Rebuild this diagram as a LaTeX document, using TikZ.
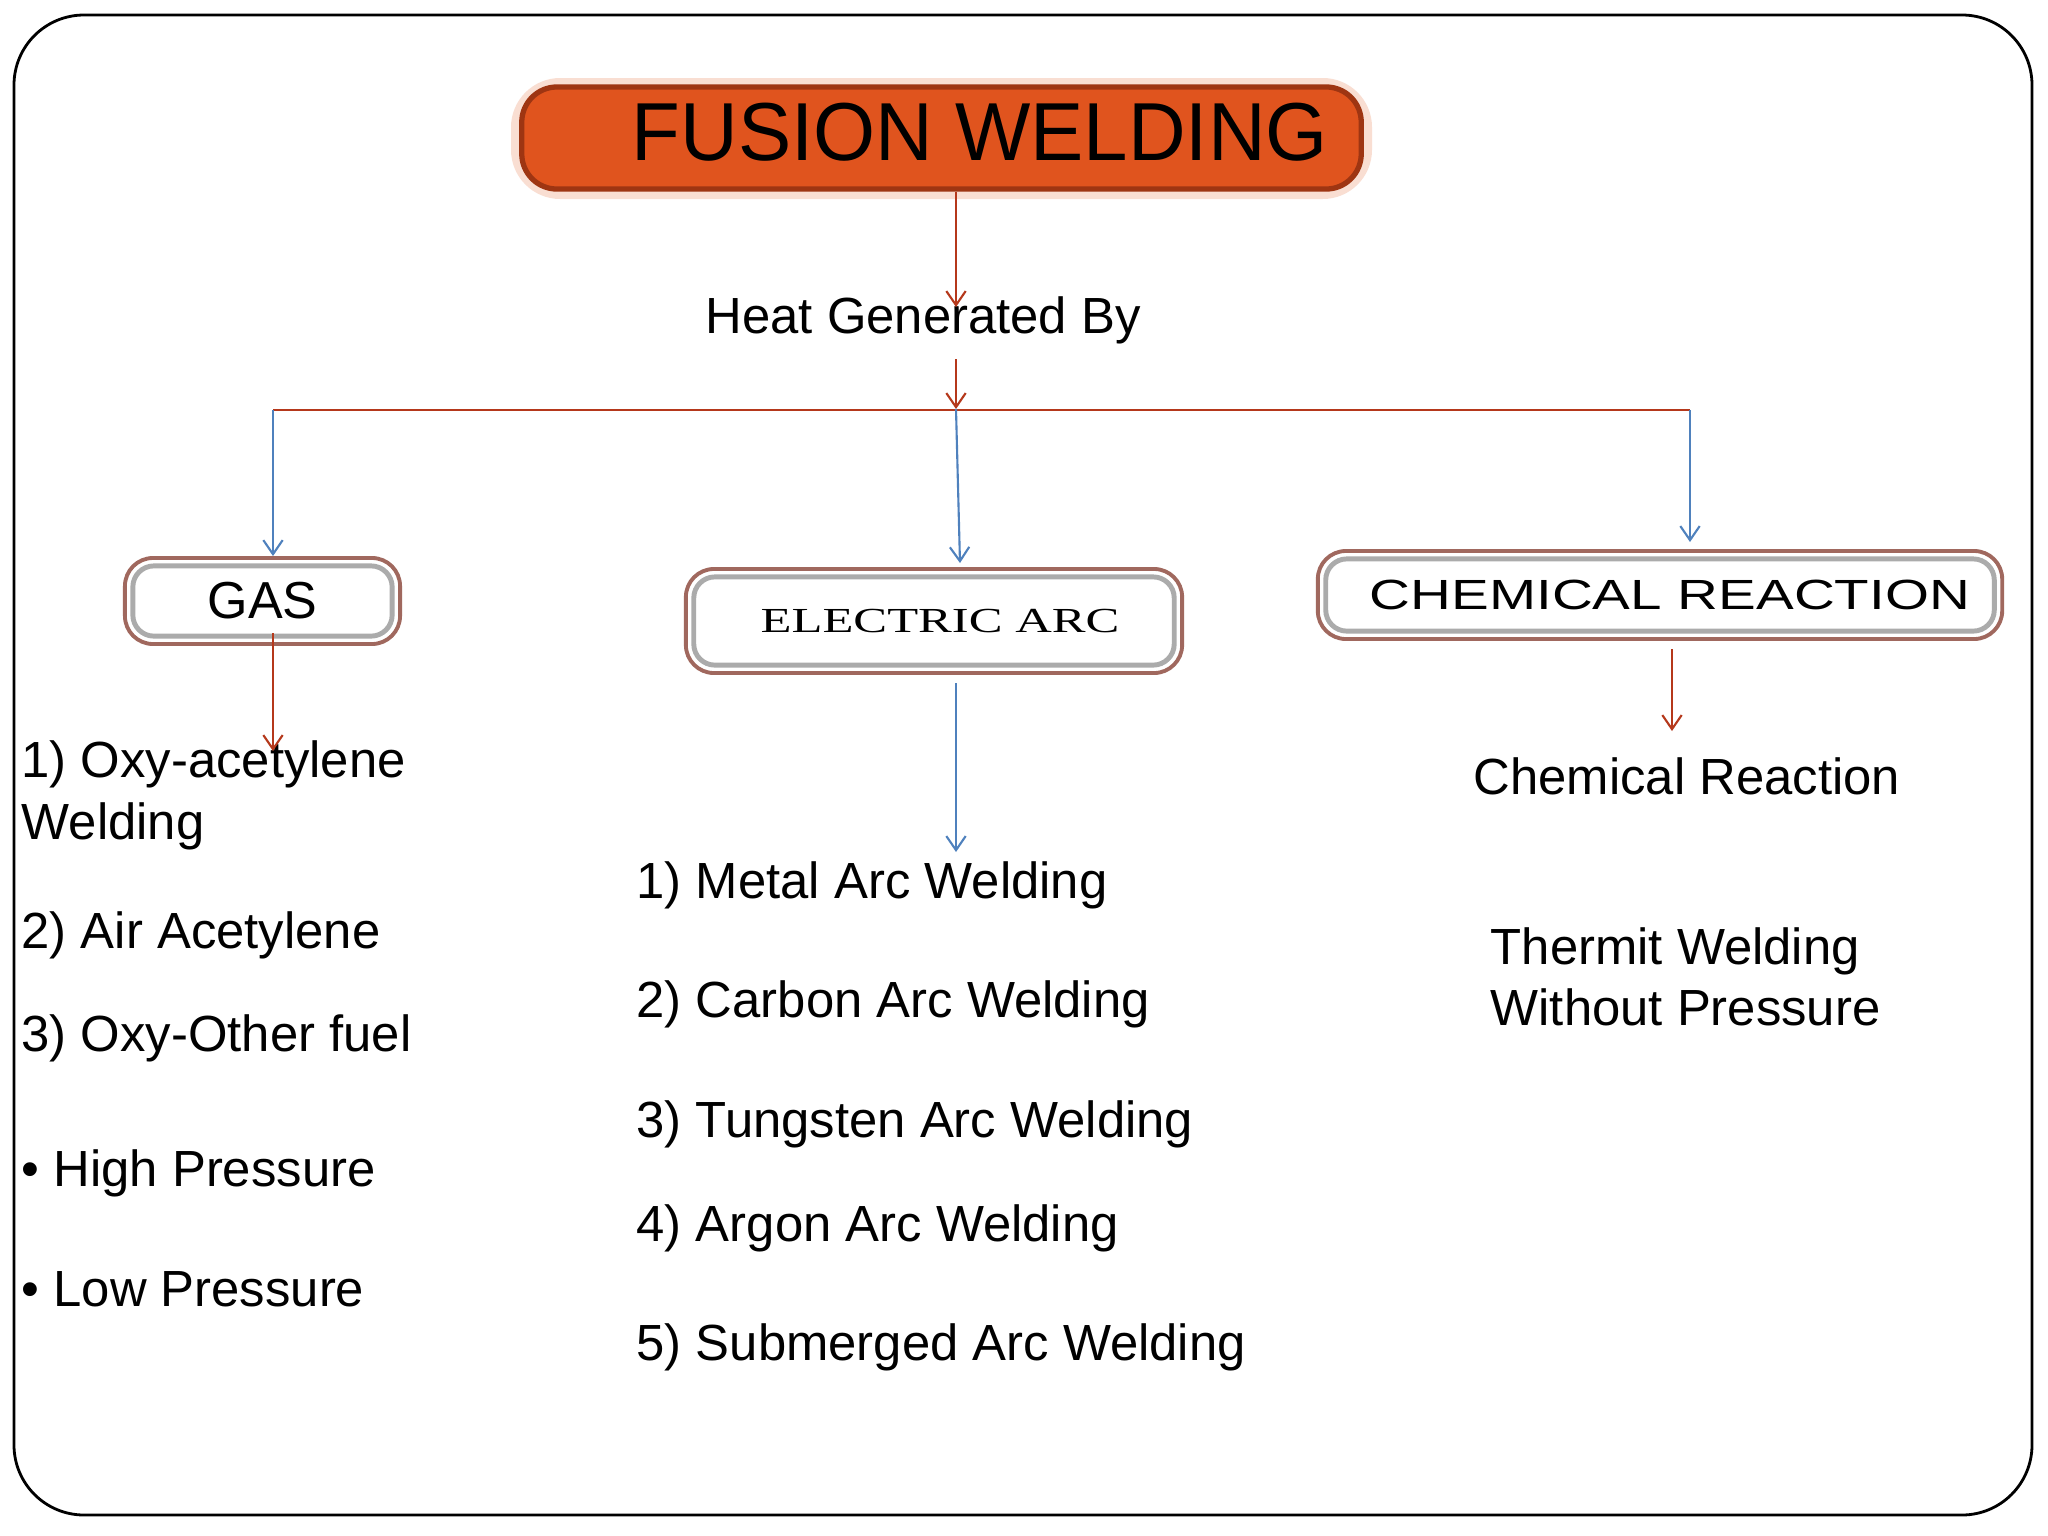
\documentclass[tikz,border=0pt]{standalone}
\usepackage{fontspec}
\usepackage{graphicx}
\setmainfont{Liberation Sans}
\newfontfamily\serifface{Liberation Serif}
\usetikzlibrary{arrows.meta}
\definecolor{arrred}{HTML}{B5381B}
\definecolor{arrblue}{HTML}{4F81BD}
\definecolor{titleorange}{HTML}{E0541E}
\definecolor{titleedge}{HTML}{9E3512}
\definecolor{glow}{HTML}{F9DED2}
\definecolor{boxedge}{HTML}{A0685E}
\definecolor{bevel}{HTML}{ABABAB}
\begin{document}
\begin{tikzpicture}[x=0.01cm,y=-0.01cm,
  redarr/.style={draw=arrred, line width=0.6pt, -{Straight Barb[length=4pt,width=5.5pt]}},
  bluearr/.style={draw=arrblue, line width=0.6pt, -{Straight Barb[length=4pt,width=5.5pt]}},
  catbox/.style={draw=boxedge, line width=1.1pt, fill=white, rounded corners=8pt, inner sep=0pt},
  item/.style={anchor=base west, inner sep=0pt, font=\fontsize{14.45}{17}\selectfont},
]
\useasboundingbox (0,0) rectangle (2048,1536);
\fill[white] (0,0) rectangle (2048,1536);
\draw[black, line width=0.8pt, rounded corners=0.7cm] (14,15) rectangle (2032,1515);

% title
\fill[glow, rounded corners=14pt] (511,78) rectangle (1372,199);
\node[draw=titleedge, line width=1.5pt, fill=titleorange, rounded corners=10pt,
      minimum width=8.39cm, minimum height=1.02cm, inner sep=0pt] (titlebox) at (941.5,138) {};
\node[anchor=base west, inner sep=0pt, font=\fontsize{23.4}{28}\selectfont] (title) at (631,160)
      {\scalebox{0.97}[1]{FUSION WELDING}};

\node[item] (heat) at (705,333) {Heat Generated By};

% category boxes
\node[catbox, minimum width=2.75cm, minimum height=0.86cm, font=\fontsize{14.8}{17}\selectfont] (gas) at (262.5,601) {GAS};
\node[catbox, minimum width=4.96cm, minimum height=1.04cm, font=\serifface\fontsize{10}{12}\selectfont] (arc) at (934,621) {\hspace{0.12cm}\scalebox{1.44}[1]{ELECTRIC ARC}};
\node[catbox, minimum width=6.84cm, minimum height=0.88cm, font=\fontsize{12}{15}\selectfont] (chem) at (1660,595) {\hspace{0.2cm}\scalebox{1.34}[1]{CHEMICAL REACTION}};
\foreach \b in {gas,arc,chem}
  \draw[bevel, line width=1.4pt, rounded corners=6pt]
    ([shift={(2.8pt,-2.8pt)}]\b.north west) rectangle ([shift={(-2.8pt,2.8pt)}]\b.south east);

% left column
\node[item] (g1t) at (21,777) {1) Oxy-acetylene};
\node[item] (g1b) at (21,839) {Welding};
\node[item] (g2t) at (21,948) {2) Air Acetylene};
\node[item] (g3t) at (21,1051) {3) Oxy-Other fuel};
\node[item] (g4t) at (21,1186) {• High Pressure};
\node[item] (g5t) at (21,1306) {• Low Pressure};

% middle column
\node[item] (e1) at (636,898) {1) Metal Arc Welding};
\node[item] (e2) at (636,1017) {2) Carbon Arc Welding};
\node[item] (e3) at (636,1137) {3) Tungsten Arc Welding};
\node[item] (e4) at (636,1241) {4) Argon Arc Welding};
\node[item] (e5) at (636,1360) {5) Submerged Arc Welding};

% right column
\node[item] (c1) at (1473,794) {Chemical Reaction};
\node[item] (c2) at (1490,964) {Thermit Welding};
\node[item] (c3) at (1490,1025) {Without Pressure};

% connectors
\coordinate (h1) at (956,307);
\coordinate (h2) at (956,359);
\coordinate (jn) at (956,409);
\coordinate (jl) at (273,410);
\coordinate (jr) at (1690,410);
\coordinate (atop) at (960,563);
\coordinate (gs) at (273,633);
\coordinate (ge) at (273,751);
\coordinate (as) at (956,683);
\coordinate (ae) at (956,852);
\coordinate (cs) at (1672,649);
\coordinate (ce) at (1672,731);

\draw[redarr] (titlebox.south -| h1) -- (h1);
\draw[redarr] (h2) -- (jn);
\draw[arrred, line width=0.6pt] (jl) -- (jr);
\draw[bluearr] (jl) -- (gas.north -| jl);
\draw[bluearr] (jn) -- (atop);
\draw[bluearr, shorten >=2pt] (jr) -- (chem.north -| jr);
\draw[redarr] (gs) -- (ge);
\draw[bluearr] (as) -- (ae);
\draw[redarr] (cs) -- (ce);
\end{tikzpicture}
\end{document}
